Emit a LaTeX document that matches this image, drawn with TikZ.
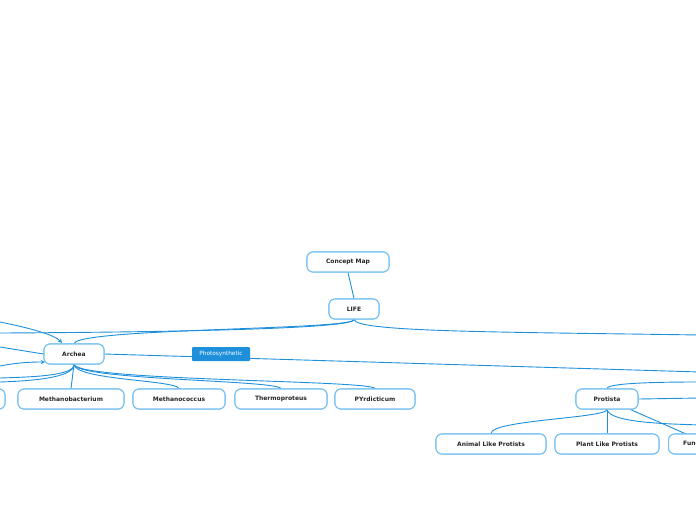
\documentclass[tikz,border=0pt]{standalone}
\usepackage{fontspec}
\setmainfont{DejaVu Sans}
\definecolor{lnk}{HTML}{1E8FDB}
\definecolor{brd}{HTML}{78C2F0}
\begin{document}
\begin{tikzpicture}[x=1pt,y=-1pt,
 box/.style={draw=brd,line width=1.1pt,rounded corners=6pt,fill=white,minimum height=20pt,font=\fontsize{6}{7}\selectfont\bfseries,text=black!85,inner sep=0pt},
 con/.style={draw=lnk,line width=0.9pt},
 lab/.style={fill=lnk,text=white,font=\fontsize{5.8}{7}\selectfont,minimum width=58pt,minimum height=14pt,inner sep=0pt,rounded corners=1pt}]
\useasboundingbox (0,0) rectangle (696,520);
\clip (0,0) rectangle (696,520);
\coordinate (L1) at (0,322);\coordinate (L2) at (0,333);\coordinate (L3) at (0,347);
\coordinate (L4) at (0,366);\coordinate (L5) at (0,378);\coordinate (L6) at (0,382);
\coordinate (R1) at (700,335);\coordinate (R2) at (700,372);\coordinate (R3) at (700,382);
\coordinate (R4) at (700,398);\coordinate (R5) at (700,425);
\node[box,minimum width=82pt] (cm) at (348,262) {Concept Map};
\node[box,minimum width=50pt] (life) at (354,309) {LIFE};
\node[box,minimum width=60pt] (arch) at (74,354) {Archea};
\node[box,minimum width=80pt] (x0) at (-35,399) {};
\node[box,minimum width=106pt] (mb) at (71,399) {Methanobacterium};
\node[box,minimum width=92pt] (mc) at (179,399) {Methanococcus};
\node[box,minimum width=92pt] (tp) at (281,399) {Thermoproteus};
\node[box,minimum width=80pt] (py) at (375,399) {PYrdicticum};
\node[box,minimum width=62pt] (pr) at (607,399) {Protista};
\node[box,minimum width=110pt] (an) at (491,444) {Animal Like Protists};
\node[box,minimum width=104pt] (pl) at (607,444) {Plant Like Protists};
\node[box,minimum width=110pt,anchor=west] (fu) at (668,444) {};
\draw[con] (cm.south) -- (life.north);
\draw[con] (life.south) .. controls (354,330) and (80,328) .. (arch.north);
\draw[con] (life.south) .. controls (354,328) and (200,332) .. (L2);
\draw[con] (life.south) .. controls (356,332) and (500,332) .. (R1);
\draw[con,-stealth] (L1) .. controls (30,328) and (55,335) .. (62,343);
\draw[con] (L3) -- (arch.west);
\draw[con,-stealth] (L4) .. controls (20,362) and (35,362) .. (45,362);
\draw[con] (arch.east) -- (R2);
\node[lab] (ph) at (221,354) {Photosynthetic};
\draw[con] (arch.south) .. controls (74,376) and (30,377) .. (L5);
\draw[con] (arch.south) .. controls (74,378) and (30,381) .. (L6);
\draw[con] (arch.south) -- (mb.north);
\draw[con] (arch.south) .. controls (76,380) and (175,380) .. (mc.north);
\draw[con] (arch.south) .. controls (78,380) and (275,380) .. (tp.north);
\draw[con] (arch.south) .. controls (80,381) and (370,380) .. (py.north);
\draw[con] (pr.north) .. controls (607,382) and (680,382) .. (R3);
\draw[con] (pr.east) -- (R4);
\draw[con] (pr.south) .. controls (607,418) and (491,420) .. (an.north);
\draw[con] (pr.south) -- (pl.north);
\draw[con] (pr.south) .. controls (610,424) and (680,424) .. (R5);
\draw[con] (pr.south east) ++(-8,0) -- (686,434);
\node[box,minimum width=82pt] at (348,262) {Concept Map};
\node[box,minimum width=50pt] at (354,309) {LIFE};
\node[box,minimum width=60pt] at (74,354) {Archea};
\node[box,minimum width=80pt] at (-35,399) {};
\node[box,minimum width=106pt] at (71,399) {Methanobacterium};
\node[box,minimum width=92pt] at (179,399) {Methanococcus};
\node[box,minimum width=92pt] at (281,399) {Thermoproteus};
\node[box,minimum width=80pt] at (375,399) {PYrdicticum};
\node[box,minimum width=62pt] at (607,399) {Protista};
\node[box,minimum width=110pt] at (491,444) {Animal Like Protists};
\node[box,minimum width=104pt] at (607,444) {Plant Like Protists};
\node[box,minimum width=110pt,anchor=west] at (668,444) {};
\node[anchor=west,inner sep=0pt,font=\fontsize{6}{7}\selectfont\bfseries,text=black!85] (fut) at (683,444) {Fungus Like Protists};
\end{tikzpicture}
\end{document}
